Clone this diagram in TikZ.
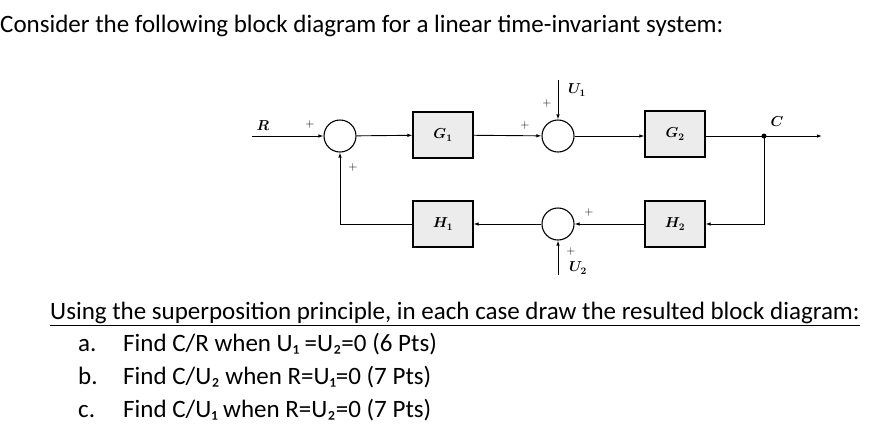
\documentclass[tikz,border=0pt]{standalone}
\usepackage{fontspec}
\setmainfont{Carlito}
\usetikzlibrary{arrows.meta}
\begin{document}
\begin{tikzpicture}[x=1pt,y=-1pt,
  blk/.style={draw,line width=1.2pt,fill=gray!15,minimum width=60pt,minimum height=46pt,inner sep=0pt,font=\Large\boldmath},
  sumc/.style={draw,line width=1.1pt,circle,minimum size=32pt,inner sep=0pt},
  ln/.style={line width=0.9pt},
  arr/.style={ln,-{Latex[length=5pt,width=3.5pt]}},
  lbl/.style={font=\Large\boldmath},
  pl/.style={font=\large},
  txt/.style={font=\fontsize{25}{28}\selectfont,anchor=base west,inner sep=0pt}]
\useasboundingbox (0,0) rectangle (888,437);
\node[txt] (title) at (0,32) {Consider the following block diagram for a linear time-invariant system:};
\node[sumc] (s1) at (340,136) {};
\node[blk] (g1) at (443,135) {$G_1$};
\node[sumc] (s2) at (558,136) {};
\node[blk] (g2) at (675,134) {$G_2$};
\node[blk] (h1) at (443,224) {$H_1$};
\node[sumc] (s3) at (558,224) {};
\node[blk] (h2) at (675,224) {$H_2$};
\coordinate (rin) at (252,136);
\coordinate (cj) at (764,136);
\coordinate (cout) at (822,136);
\coordinate (u1) at (558,80);
\coordinate (u2) at (558,275);
\coordinate (bl) at (340,224);
\coordinate (br) at (764,224);
\draw[arr] (rin) -- (s1);
\draw[arr] (s1) -- (g1);
\draw[arr] (g1) -- (s2);
\draw[arr] (s2) -- (g2.west |- s2);
\draw[ln] (g2.east |- cj) -- (cj);
\draw[arr] (cj) -- (cout);
\fill (cj) circle (2.5pt);
\draw[arr] (cj) -- (br) -- (h2);
\draw[arr] (h2) -- (s3);
\draw[arr] (s3) -- (h1);
\draw[arr] (h1) -- (bl) -- (s1);
\draw[arr] (u1) -- (s2);
\draw[arr] (u2) -- (s3);
\node[lbl] (lr) at (263,126) {$R$};
\node[lbl] (lc) at (777,122) {$C$};
\node[lbl] (lu1) at (577,90) {$U_1$};
\node[lbl] (lu2) at (578,268) {$U_2$};
\node[pl] (p1) at (310,124) {$+$};
\node[pl] (p2) at (353,167) {$+$};
\node[pl] (p3) at (525,125) {$+$};
\node[pl] (p4) at (547,103) {$+$};
\node[pl] (p5) at (589,212) {$+$};
\node[pl] (p6) at (571,251) {$+$};
\node[txt] (q) at (50,319) {\underline{Using the superposition principle, in each case draw the resulted block diagram:}};
\node[txt] (a) at (78,351) {a.};
\node[txt] (at) at (123,351) {Find C/R when U₁ =U₂=0 (6 Pts)};
\node[txt] (b) at (78,384) {b.};
\node[txt] (bt) at (123,384) {Find C/U₂ when R=U₁=0 (7 Pts)};
\node[txt] (c) at (78,417) {c.};
\node[txt] (ct) at (123,417) {Find C/U₁ when R=U₂=0 (7 Pts)};
\end{tikzpicture}
\end{document}
